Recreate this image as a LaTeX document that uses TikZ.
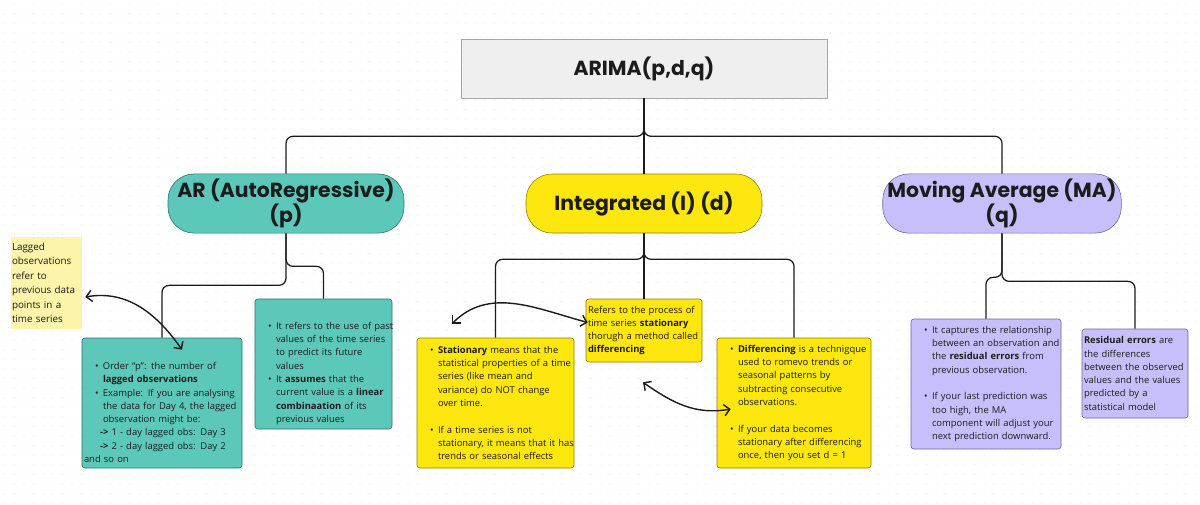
\documentclass[tikz,border=0pt]{standalone}
\usepackage{fontspec}
\setmainfont{Open Sans}
\newfontfamily\headfont{Poppins}
\usetikzlibrary{arrows.meta,positioning}
\definecolor{cTeal}{HTML}{5BC8BA}
\definecolor{cYel}{HTML}{FDE70F}
\definecolor{cLav}{HTML}{C7BFFC}
\definecolor{cNote}{HTML}{FBF4A9}
\definecolor{cGrey}{HTML}{EFEFEF}
\definecolor{cInk}{HTML}{1C1C1C}
\definecolor{cDot}{HTML}{DCDCDC}
% one line of a card: bullet line, hanging line, arrow line
\newcommand{\bl}[1]{\mbox{\hspace*{0.275cm}\makebox[0.2cm][l]{\textbullet}#1}}
\newcommand{\ct}[1]{\mbox{\hspace*{0.475cm}#1}}
\newcommand{\lagln}[1]{\mbox{\hspace*{0.4cm}\textbf{->} #1}}
\tikzset{
  head/.style ={rounded corners=0.65cm,draw=#1!55!black,fill=#1,text=cInk,
                minimum width=5.9cm,minimum height=1.475cm,align=center,
                font=\headfont\bfseries\fontsize{14.5}{18.3}\selectfont},
  card/.style ={rounded corners=2pt,draw=#1!55!black,fill=#1,text=cInk,
                align=left,inner xsep=0.05cm,inner ysep=0pt,
                font=\fontsize{6.7}{9.45}\selectfont},
  tree/.style ={line width=0.9pt,cInk,rounded corners=5pt},
  link/.style ={{Straight Barb[length=4pt,width=8pt]}-{Straight Barb[length=4pt,width=8pt]},
                line width=1pt,cInk},
}
\begin{document}
\begin{tikzpicture}
\useasboundingbox (0,0) rectangle (30,-12.6);
\fill[white] (0,0) rectangle (30,-12.6);
% dotted canvas
\foreach \i in {0,...,124}
  \foreach \j in {0,...,52}
    \fill[cDot] (0.12+\i*0.24,-0.1-\j*0.24) circle (0.35pt);
% top and the three parts
\node[draw=gray!70,fill=cGrey,minimum width=9.15cm,minimum height=1.475cm,text=cInk,
      font=\headfont\bfseries\fontsize{14.5}{18.3}\selectfont] (arima) at (16.1,-1.7125) {ARIMA(p,d,q)};
\node[head=cTeal] (ar) at (7.15,-5.0875) {AR (AutoRegressive)\\(p)};
\node[head=cYel] (integ) at (16.1,-5.0875) {Integrated (I) (d)};
\node[head=cLav] (ma) at (25.05,-5.0875) {Moving Average (MA)\\(q)};
% AR cards
\node[fill=cNote,align=left,text width=1.725cm,inner xsep=0.025cm,minimum height=2.3cm,
      text=cInk,font=\fontsize{7}{10.3}\selectfont] (note) at (1.1625,-7.075)
  {Lagged\\observations\\refer to\\previous data\\points in a\\time series};
\node[card=cTeal,text width=3.9cm,minimum height=3.25cm] (lag) at (4.05,-10.075)
  {\mbox{}\\[9pt]
   \bl{Order “p”: the number of}\\
   \ct{\textbf{lagged observations}}\\
   \bl{Example: If you are analysing}\\
   \ct{the data for Day 4, the lagged}\\
   \ct{observation might be:}\\
   \lagln{1 - day lagged obs: Day 3}\\
   \lagln{2 - day lagged obs: Day 2}\\
   and so on};
\node[card=cTeal,text width=3.325cm,minimum height=3.25cm] (past) at (8.0875,-9.1)
  {\mbox{}\\[9pt]
   \bl{It refers to the use of past}\\
   \ct{values of the time series}\\
   \ct{to predict its future}\\
   \ct{values}\\
   \bl{It \textbf{assumes} that the}\\
   \ct{current value is a \textbf{linear}}\\
   \ct{\textbf{combinaation} of its}\\
   \ct{previous values}};
% Integrated cards
\node[card=cYel,text width=3.825cm,minimum height=3.25cm] (stat) at (12.3875,-10.075)
  {\bl{\textbf{Stationary} means that the}\\
   \ct{statistical properties of a time}\\
   \ct{series (like mean and}\\
   \ct{variance) do NOT change}\\
   \ct{over time.}\\[9.45pt]
   \bl{If a time series is not}\\
   \ct{stationary, it means that it has}\\
   \ct{trends or seasonal effects}};
\node[card=cYel,text width=2.8cm,minimum height=1.575cm] (proc) at (16.1,-8.2625)
  {Refers to the process of\\
   time series \textbf{stationary}\\
   thorugh a method called\\
   \textbf{differencing}};
\node[card=cYel,text width=3.75cm,minimum height=3.25cm] (diff) at (19.85,-10.075)
  {\bl{\textbf{Differencing} is a technigque}\\
   \ct{used to romevo trends or}\\
   \ct{seasonal patterns by}\\
   \ct{subtracting consecutive}\\
   \ct{observations.}\\[9.45pt]
   \bl{If your data becomes}\\
   \ct{stationary after differencing}\\
   \ct{once, then you set d = 1}};
% MA cards
\node[card=cLav,text width=3.65cm,minimum height=3.25cm] (capt) at (24.65,-9.6)
  {\bl{It captures the relationship}\\
   \ct{between an observation and}\\
   \ct{the \textbf{residual errors} from}\\
   \ct{previous observation.}\\[9.45pt]
   \bl{If your last prediction was}\\
   \ct{too high, the MA}\\
   \ct{component will adjust your}\\
   \ct{next prediction downward.}};
\node[card=cLav,text width=2.55cm,minimum height=2.225cm] (resid) at (28.375,-9.3375)
  {\textbf{Residual errors} are\\
   the differences\\
   between the observed\\
   values and the values\\
   predicted by a\\
   statistical model};
% tree lines
\draw[tree] (arima.south) -- (integ.north);
\draw[tree] (arima.south) -- ++(0,-0.95) -| (ar.north);
\draw[tree] (arima.south) -- ++(0,-0.95) -| (ma.north);
\draw[tree] (ar.south) -- ++(0,-1.3) -| (lag.north);
\draw[tree] (ar.south) -- ++(0,-0.825) -| (past.north);
\draw[tree] (integ.south) -- (proc.north);
\draw[tree] (integ.south) -- ++(0,-0.65) -| (stat.north);
\draw[tree] (integ.south) -- ++(0,-0.65) -| (diff.north);
\draw[tree] (ma.south) -- ++(0,-1.1) -| (capt.north);
\draw[tree] (ma.south) -- ++(0,-1.2) -| (resid.north);
% curved links
\draw[link] ([shift={(0.075,-0.35)}]note.east) to[out=10,in=125] ([shift={(0.5,-0.3)}]lag.north);
\draw[link] ([shift={(-1.0875,0.35)}]stat.north) to[out=45,in=165] ([shift={(0.05,0.2)}]proc.west);
\draw[link] ([shift={(-0.025,-0.5)}]proc.south) to[out=-35,in=190] ([shift={(0.35,-0.15)}]diff.west);
\end{tikzpicture}
\end{document}
